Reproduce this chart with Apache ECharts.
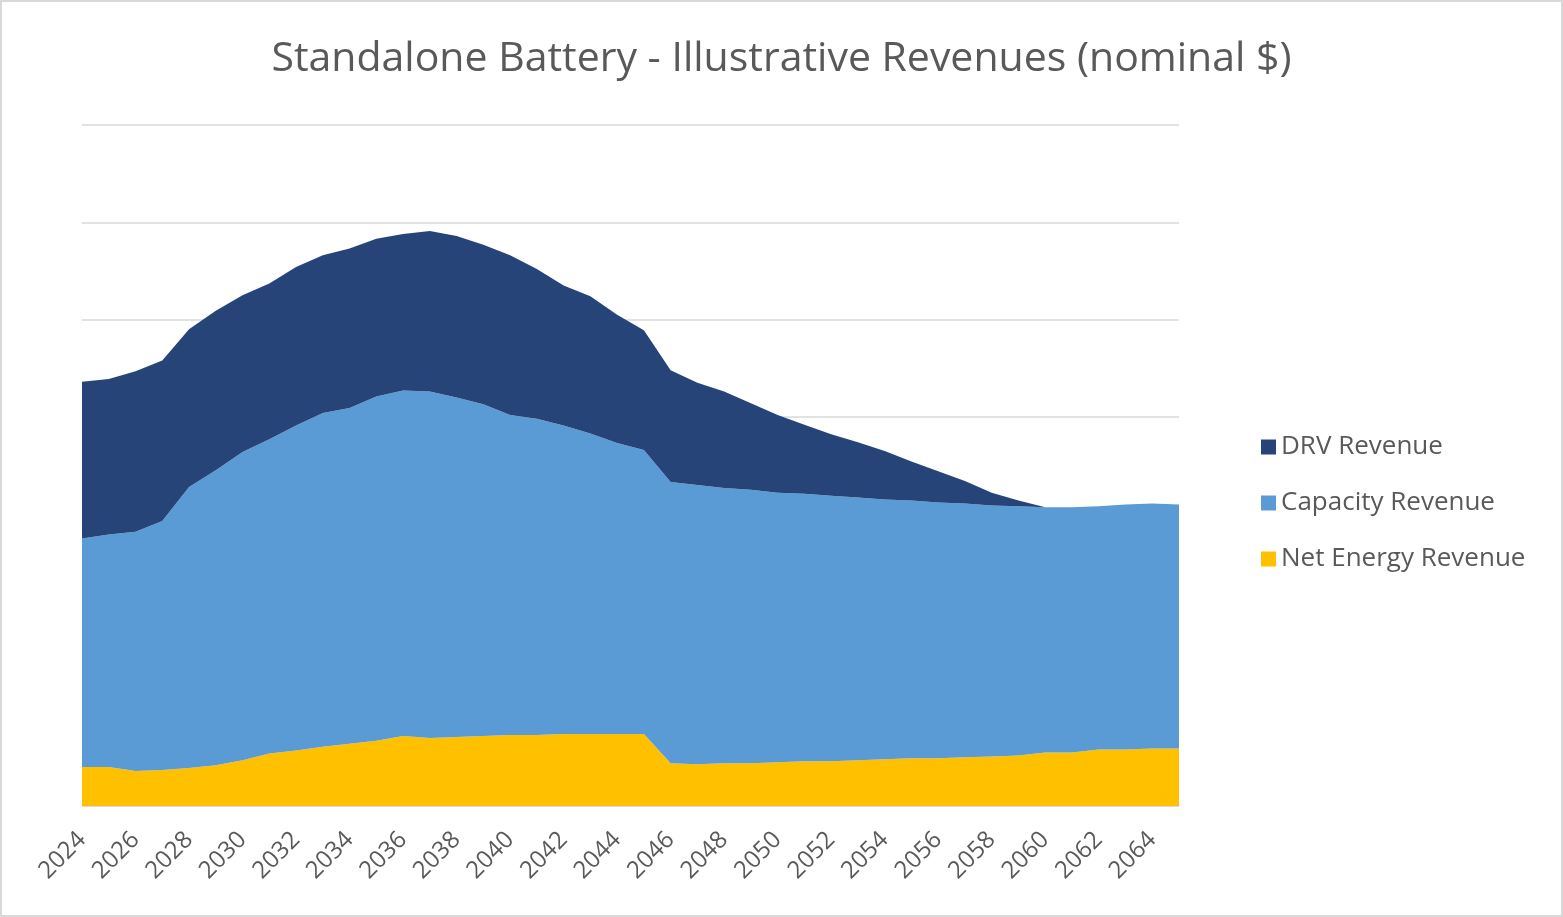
<!DOCTYPE html>
<html>
<head>
<meta charset="utf-8">
<script src="https://cdn.jsdelivr.net/npm/echarts@6/dist/echarts.min.js"></script>
<style>
  html, body { margin: 0; padding: 0; background: #ffffff; }
  #frame { width: 1563px; height: 917px; box-sizing: border-box; border: 2px solid #d9d9d9; position: relative; }
  #chart { position: absolute; left: -2px; top: -2px; width: 1563px; height: 917px; }
</style>
</head>
<body>
<div id="frame"><div id="chart"></div></div>
<script>
const years = [];
for (let y = 2024; y <= 2065; y++) years.push(String(y));

const netEnergyRevenue = [4.0, 4.0, 3.6, 3.7, 3.9, 4.2, 4.7, 5.4, 5.7, 6.1, 6.4, 6.7, 7.2, 7.0, 7.1, 7.2, 7.3, 7.3, 7.4, 7.4, 7.4, 7.4,
  4.4, 4.3, 4.4, 4.4, 4.5, 4.6, 4.6, 4.7, 4.8, 4.9, 4.9, 5.0, 5.1, 5.2, 5.5, 5.5, 5.8, 5.8, 5.9, 5.9];
const capacityRevenue = [23.5, 23.9, 24.6, 25.6, 28.9, 30.3, 31.7, 32.3, 33.4, 34.3, 34.5, 35.4, 35.5, 35.6, 34.9, 34.1, 32.9, 32.5, 31.7, 30.9, 29.9, 29.2,
  28.9, 28.7, 28.3, 28.1, 27.7, 27.5, 27.3, 27.0, 26.7, 26.5, 26.3, 26.1, 25.8, 25.6, 25.2, 25.2, 25.0, 25.2, 25.2, 25.1];
const drvRevenue = [16.1, 16.0, 16.5, 16.5, 16.2, 16.4, 16.1, 16.0, 16.3, 16.2, 16.4, 16.2, 16.1, 16.5, 16.6, 16.4, 16.4, 15.4, 14.4, 14.1, 13.2, 12.3,
  11.5, 10.5, 9.9, 8.9, 8.0, 7.1, 6.3, 5.7, 5.0, 4.0, 3.2, 2.3, 1.3, 0.6, 0, 0, 0, 0, 0, 0];

const seriesNames = ['Net Energy Revenue', 'Capacity Revenue', 'DRV Revenue'];
const seriesColors = ['#FFC000', '#5B9BD5', '#264478'];
const seriesData = [netEnergyRevenue, capacityRevenue, drvRevenue];

const chart = echarts.init(document.getElementById('chart'), null, { renderer: 'canvas' });
const font = '"Open Sans", "Noto Sans", sans-serif';

chart.setOption({
  animation: false,
  backgroundColor: 'transparent',
  title: {
    text: 'Standalone Battery - Illustrative Revenues (nominal $)',
    left: 'center',
    top: 34,
    textStyle: { fontFamily: font, fontSize: 41, fontWeight: 'normal', color: '#595959' }
  },
  legend: {
    orient: 'vertical',
    left: 1256,
    top: 429,
    itemGap: 30,
    itemWidth: 15,
    itemHeight: 15,
    icon: 'rect',
    data: ['DRV Revenue', 'Capacity Revenue', 'Net Energy Revenue'],
    textStyle: { fontFamily: font, fontSize: 26, color: '#595959' }
  },
  grid: { left: 82, right: 384, top: 125, bottom: 111, containLabel: false },
  xAxis: {
    type: 'category',
    data: years,
    boundaryGap: false,
    axisTick: { show: false },
    axisLine: { lineStyle: { color: '#d9d9d9', width: 1.5 } },
    axisLabel: { interval: 1, rotate: 45, margin: 30, fontFamily: font, fontSize: 24, color: '#595959' }
  },
  yAxis: {
    type: 'value',
    min: 0, max: 70, interval: 10,
    axisLabel: { show: false },
    axisLine: { show: false },
    axisTick: { show: false },
    splitLine: { lineStyle: { color: '#d9d9d9', width: 1.5 } }
  },
  series: seriesNames.map((name, i) => ({
    name: name,
    type: 'line',
    stack: 'total',
    data: seriesData[i],
    symbol: 'none',
    showSymbol: false,
    lineStyle: { width: 0 },
    itemStyle: { color: seriesColors[i] },
    areaStyle: { color: seriesColors[i], opacity: 1 },
    z: 2
  }))
});
</script>
</body>
</html>
